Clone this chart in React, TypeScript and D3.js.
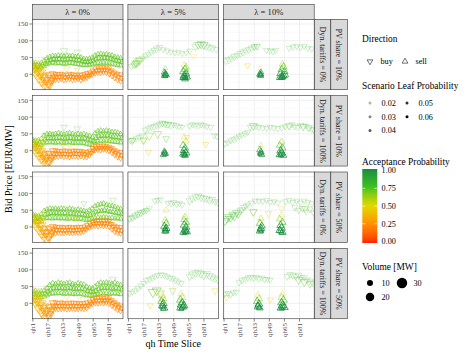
import React from "react";
import * as d3 from "d3";

// ---------------- data ----------------
const lambdaLabels = ["λ = 0%", "λ = 5%", "λ = 10%"];
const tariffLabels = ["Dyn. tariffs = 0%", "Dyn. tariffs = 100%", "Dyn. tariffs = 0%", "Dyn. tariffs = 100%"];
const pvLabels = ["PV share = 10%", "PV share = 10%", "PV share = 50%", "PV share = 50%"];
const xTickSlices = [1, 17, 33, 49, 65, 81];
const xTickLabels = ["qh1", "qh17", "qh33", "qh49", "qh65", "qh81"];
const yTickValues = [0, 50, 100, 150];
const yMinorValues = [-25, 25, 75, 125];

const bandSlices = [1, 4, 7, 10, 13, 16, 19, 22, 25, 28, 31, 34, 37, 40, 43, 46, 49, 52, 55, 58, 61, 64, 67, 70, 73, 76, 79, 82, 85, 88, 91, 94];
const midSlices = [2, 5, 8, 11, 14, 17, 20, 23, 26, 29, 32, 35, 38, 41, 44, 47, 50, 53, 56, 59, 62, 65, 68, 71, 74, 77, 80, 83, 86, 89, 92, 95];
const sellAcceptance = [0.62, 0.6, 0.6, 0.64, 0.68, 0.7, 0.72, 0.72, 0.72, 0.72, 0.72, 0.72, 0.72, 0.72, 0.72, 0.72, 0.72, 0.72, 0.72, 0.72, 0.72, 0.72, 0.72, 0.72, 0.72, 0.72, 0.72, 0.72, 0.72, 0.72, 0.72, 0.72];
const buyAcceptance = [0.46, 0.42, 0.38, 0.34, 0.3, 0.28, 0.26, 0.23, 0.22, 0.22, 0.22, 0.22, 0.22, 0.22, 0.22, 0.22, 0.22, 0.22, 0.22, 0.22, 0.22, 0.22, 0.22, 0.22, 0.22, 0.22, 0.22, 0.22, 0.22, 0.22, 0.22, 0.22];
const sellVolume = [12, 11, 10, 8, 7, 7, 7, 7, 7, 7, 7, 7, 7, 7, 7, 7, 7, 7, 7, 7, 7, 7, 7, 7, 7, 7, 7, 7, 7, 7, 7, 7];
const buyVolume = [16, 18, 20, 22, 24, 24, 20, 12, 7, 6, 6, 6, 6, 6, 6, 6, 6, 6, 6, 6, 6, 6, 6, 6, 6, 6, 6, 6, 6, 6, 6, 6];

// lambda = 0%, row 1 (PV 10%, Dyn 0%)
const sellHiR1 = [33, 32, 30, 34, 40, 48, 52, 55, 54, 56, 55, 53, 56, 54, 55, 52, 53, 50, 46, 45, 47, 50, 56, 60, 61, 59, 60, 58, 56, 52, 50, 48];
const sellMidR1 = [27, 25, 23, 27, 32, 38, 42, 45, 43, 46, 44, 42, 44, 45, 44, 41, 42, 39, 37, 36, 38, 41, 45, 48, 47, 49, 48, 46, 44, 41, 39, 37];
const sellLoR1 = [22, 18, 16, 20, 24, 30, 33, 35, 32, 34, 33, 31, 32, 34, 33, 31, 30, 28, 28, 27, 28, 30, 32, 34, 33, 35, 34, 32, 31, 29, 27, 26];
const buyHiR1 = [26, 20, 12, 5, -5, -12, -3, 2, 0, 1, 2, 0, -1, 2, 1, -2, 0, -1, 1, 4, 6, 12, 18, 22, 20, 22, 21, 18, 12, 6, 2, 0];
const buyMidR1 = [17, 10, 0, -8, -18, -26, -16, -8, -7, -8, -6, -9, -8, -6, -8, -9, -7, -10, -6, -3, 0, 5, 10, 13, 12, 14, 12, 9, 3, -3, -8, -11];
const buyLoR1 = [8, 0, -12, -22, -32, -38, -30, -18, -16, -17, -15, -18, -16, -14, -17, -16, -15, -18, -14, -10, -6, -2, 2, 4, 3, 5, 4, 0, -6, -12, -18, -22];
// row 2 (PV 10%, Dyn 100%)
const sellHiR2 = [30, 28, 30, 35, 45, 50, 50, 48, 50, 52, 50, 48, 50, 52, 50, 48, 50, 48, 50, 46, 44, 40, 52, 58, 60, 58, 60, 58, 56, 55, 54, 50];
const sellMidR2 = [24, 21, 21, 25, 33, 37, 37, 36, 37, 38, 37, 35, 37, 38, 36, 35, 37, 35, 36, 33, 31, 28, 38, 43, 45, 43, 45, 43, 41, 40, 39, 37];
const sellLoR2 = [18, 14, 12, 16, 22, 25, 24, 25, 23, 25, 24, 22, 24, 25, 23, 22, 24, 22, 23, 20, 18, 16, 25, 28, 30, 28, 30, 28, 27, 26, 25, 24];
const buyHiR2 = [20, 12, 5, -2, -10, -18, -10, 0, 1, 0, -1, 1, 0, -2, 0, 1, -1, 0, -2, -4, 0, 8, 14, 16, 15, 16, 14, 12, 8, 2, -2, -4];
const buyMidR2 = [12, 4, -5, -13, -22, -29, -21, -10, -8, -9, -9, -9, -9, -11, -8, -8, -10, -8, -10, -12, -7, 1, 7, 9, 8, 9, 8, 5, 0, -6, -11, -14];
const buyLoR2 = [5, -5, -15, -25, -33, -39, -32, -20, -18, -19, -17, -19, -18, -20, -17, -18, -19, -17, -19, -20, -15, -6, 0, 2, 1, 3, 2, -2, -8, -14, -20, -24];
// row 3 (PV 50%, Dyn 0%)
const sellHiR3 = [35, 33, 32, 38, 48, 52, 55, 54, 55, 53, 55, 54, 52, 55, 53, 50, 52, 50, 48, 46, 50, 55, 62, 66, 68, 70, 66, 64, 62, 60, 56, 54];
const sellMidR3 = [28, 25, 24, 29, 36, 39, 41, 40, 41, 40, 40, 41, 38, 40, 39, 37, 37, 37, 35, 33, 36, 40, 44, 47, 48, 50, 47, 45, 44, 42, 41, 39];
const sellLoR3 = [22, 18, 16, 20, 25, 26, 27, 25, 27, 26, 25, 27, 24, 26, 25, 24, 23, 25, 22, 20, 22, 24, 26, 28, 27, 29, 28, 26, 27, 25, 26, 24];
const buyHiR3 = [32, 25, 15, 5, -5, -15, -5, 2, 1, 0, 1, -1, 0, 1, -1, 0, 1, 0, 2, 6, 12, 16, 20, 19, 20, 18, 20, 17, 10, 4, 1, 0];
const buyMidR3 = [22, 14, 4, -8, -18, -27, -17, -8, -9, -8, -9, -10, -8, -8, -10, -8, -8, -8, -6, -1, 5, 9, 12, 11, 12, 10, 12, 9, 1, -5, -9, -10];
const buyLoR3 = [12, 2, -8, -20, -30, -38, -28, -18, -19, -17, -18, -19, -17, -18, -19, -17, -18, -16, -14, -8, -2, 1, 3, 2, 4, 2, 3, 0, -8, -15, -18, -20];
// row 4 (PV 50%, Dyn 100%)
const sellHiR4 = [38, 35, 34, 36, 38, 45, 55, 60, 58, 62, 60, 58, 60, 62, 58, 56, 60, 58, 56, 50, 46, 44, 50, 58, 62, 60, 62, 60, 58, 62, 58, 55];
const sellMidR4 = [29, 27, 26, 27, 29, 35, 41, 45, 44, 46, 45, 43, 45, 46, 43, 42, 44, 43, 41, 37, 35, 33, 37, 43, 46, 45, 46, 44, 43, 46, 43, 41];
const sellLoR4 = [20, 18, 17, 18, 20, 24, 28, 30, 29, 31, 30, 28, 29, 30, 28, 27, 29, 28, 26, 24, 23, 22, 25, 28, 30, 29, 30, 28, 29, 30, 28, 27];
const buyHiR4 = [23, 15, 8, 0, -10, -20, -12, 2, 3, 1, 3, 2, 0, 2, 3, 1, 2, 0, 1, 3, 6, 12, 18, 17, 18, 16, 18, 15, 10, 4, -2, -6];
const buyMidR4 = [15, 6, -4, -14, -24, -32, -24, -8, -7, -8, -7, -7, -9, -8, -7, -8, -8, -8, -8, -6, -1, 5, 9, 8, 10, 8, 10, 7, 1, -5, -11, -15];
const buyLoR4 = [8, -2, -15, -28, -38, -44, -36, -17, -16, -18, -17, -16, -18, -17, -16, -18, -17, -16, -17, -15, -8, -2, 0, -1, 1, 0, 2, -2, -8, -14, -20, -24];

type Bid = [number, number, string, number, number, number]; // qh, price, direction, acceptance, leaf prob, volume

// lambda = 0% scattered bids
const lam0ExtraR1: Bid[] = [[34, 71, "b", 0.8, 0.02, 14], [48, 66, "b", 0.78, 0.02, 12], [25, 46, "b", 0.75, 0.02, 10], [14, 45, "b", 0.7, 0.02, 8], [37, 17, "b", 0.45, 0.03, 10], [48, 12, "b", 0.45, 0.03, 8], [59, -8, "b", 0.3, 0.03, 12], [80, 27, "b", 0.45, 0.03, 10], [6, 27, "b", 0.8, 0.03, 14]];
const lam0ExtraR2: Bid[] = [[15, 45, "b", 0.75, 0.02, 14], [34, 70, "b", 0.8, 0.02, 12], [48, 65, "b", 0.8, 0.02, 12], [33, 18, "b", 0.45, 0.03, 10], [40, 15, "b", 0.45, 0.03, 10], [55, -5, "b", 0.4, 0.03, 10], [61, -3, "b", 0.35, 0.02, 8], [80, 25, "b", 0.45, 0.03, 10], [5, 28, "b", 0.75, 0.03, 14], [20, 48, "b", 0.72, 0.02, 10]];
const lam0ExtraR3: Bid[] = [[18, 45, "b", 0.8, 0.02, 16], [55, 70, "b", 0.8, 0.02, 10], [86, 80, "b", 0.8, 0.02, 12], [40, 30, "b", 0.5, 0.03, 10], [47, 28, "b", 0.5, 0.03, 10], [61, 25, "b", 0.48, 0.03, 10], [75, 30, "b", 0.5, 0.03, 10], [6, 30, "b", 0.75, 0.03, 14], [26, 50, "b", 0.72, 0.02, 10]];
const lam0ExtraR4: Bid[] = [[18, 43, "b", 0.78, 0.02, 20], [43, 52, "b", 0.75, 0.02, 10], [61, 28, "b", 0.55, 0.03, 10], [86, 72, "b", 0.78, 0.02, 12], [37, 18, "b", 0.45, 0.03, 10], [54, 13, "b", 0.45, 0.03, 10], [73, 28, "b", 0.5, 0.03, 12], [6, 28, "b", 0.7, 0.03, 14], [28, 50, "b", 0.72, 0.02, 10]];

// lambda = 5%
const lam5R1: Bid[] = [
  [4, 24, "b", 0.8, 0.02, 10], [7, 28, "b", 0.8, 0.03, 12], [9, 32, "b", 0.7, 0.04, 16], [10, 35, "b", 0.75, 0.03, 14], [12, 40, "b", 0.65, 0.03, 18], [13, 42, "b", 0.72, 0.03, 16], [16, 48, "b", 0.78, 0.02, 12], [19, 55, "b", 0.8, 0.02, 10], [22, 60, "b", 0.8, 0.02, 10], [25, 66, "b", 0.8, 0.02, 10], [28, 72, "b", 0.8, 0.02, 10], [31, 76, "b", 0.82, 0.02, 12], [34, 80, "b", 0.8, 0.02, 12], [38, 74, "b", 0.8, 0.02, 10], [42, 70, "b", 0.8, 0.02, 10], [46, 66, "b", 0.8, 0.02, 8], [50, 64, "b", 0.8, 0.02, 8], [54, 66, "b", 0.8, 0.02, 8], [58, 62, "b", 0.78, 0.02, 8], [62, 64, "b", 0.8, 0.02, 8], [66, 70, "b", 0.8, 0.02, 10], [70, 54, "b", 0.42, 0.02, 10], [72, 82, "b", 0.8, 0.02, 14], [75, 88, "b", 0.8, 0.03, 16], [78, 90, "b", 0.8, 0.03, 18], [81, 88, "b", 0.8, 0.03, 18], [84, 84, "b", 0.8, 0.02, 16], [87, 80, "b", 0.8, 0.02, 14], [90, 78, "b", 0.8, 0.02, 14], [94, 74, "b", 0.8, 0.02, 12],
  [40, 18, "s", 0.7, 0.03, 6], [39, 6, "s", 0.9, 0.05, 10], [40, 2, "s", 0.95, 0.06, 12], [41, -2, "s", 1, 0.06, 12], [39, -4, "s", 0.98, 0.06, 10], [40, -1, "s", 1, 0.06, 8], [40, -6, "s", 1, 0.06, 6],
  [60, 28, "s", 0.55, 0.03, 10], [62, 22, "s", 0.65, 0.04, 12], [61, 15, "s", 0.75, 0.05, 14], [59, 8, "s", 0.85, 0.05, 14], [62, 2, "s", 0.92, 0.06, 16], [60, -4, "s", 0.97, 0.06, 16], [63, -8, "s", 1, 0.06, 14], [59, -10, "s", 1, 0.06, 12], [61, -14, "s", 0.98, 0.06, 12], [61, -6, "s", 1, 0.06, 10], [60, -11, "s", 1, 0.06, 8], [62, -12, "s", 1, 0.06, 6],
];
const lam5R2: Bid[] = [
  [3, 30, "b", 0.8, 0.02, 10], [6, 32, "b", 0.8, 0.02, 10], [9, 36, "b", 0.8, 0.02, 10], [12, 40, "b", 0.8, 0.02, 10], [15, 44, "b", 0.8, 0.02, 10], [19, 62, "b", 0.8, 0.02, 10], [22, 66, "b", 0.8, 0.02, 10], [25, 70, "b", 0.8, 0.02, 10], [28, 72, "b", 0.8, 0.02, 12], [31, 75, "b", 0.8, 0.02, 12], [34, 78, "b", 0.8, 0.02, 12], [37, 82, "b", 0.8, 0.03, 12], [40, 80, "b", 0.8, 0.03, 12], [43, 78, "b", 0.8, 0.03, 12], [46, 76, "b", 0.8, 0.02, 12], [49, 78, "b", 0.8, 0.02, 10], [52, 75, "b", 0.8, 0.02, 10], [55, 72, "b", 0.8, 0.02, 10], [58, 70, "b", 0.8, 0.02, 8], [66, 74, "b", 0.8, 0.02, 10], [69, 78, "b", 0.8, 0.02, 10], [72, 76, "b", 0.8, 0.02, 10], [75, 74, "b", 0.8, 0.02, 10], [78, 78, "b", 0.8, 0.02, 10], [81, 76, "b", 0.8, 0.02, 10], [84, 72, "b", 0.8, 0.02, 10], [88, 70, "b", 0.8, 0.02, 10], [92, 45, "b", 0.8, 0.02, 10], [95, 42, "b", 0.8, 0.02, 10],
  [23, 45, "b", 0.7, 0.03, 20], [32, 50, "b", 0.72, 0.03, 18], [17, 31, "b", 0.7, 0.04, 14], [41, 36, "b", 0.72, 0.03, 12], [5, 30, "b", 0.72, 0.03, 14], [22, -4, "b", 0.42, 0.03, 10], [63, 40, "b", 0.45, 0.03, 10], [83, 19, "b", 0.45, 0.03, 10],
  [39, -2, "s", 0.95, 0.05, 10], [40, -8, "s", 1, 0.06, 12], [38, -12, "s", 1, 0.06, 10], [39, -6, "s", 1, 0.06, 8], [40, -11, "s", 1, 0.06, 6],
  [60, 40, "s", 0.45, 0.03, 10], [62, 28, "s", 0.55, 0.03, 10], [59, 16, "s", 0.75, 0.05, 14], [61, 8, "s", 0.85, 0.05, 14], [60, 1, "s", 0.95, 0.06, 16], [62, -6, "s", 1, 0.06, 16], [59, -10, "s", 1, 0.06, 14], [61, -14, "s", 1, 0.06, 12], [60, -8, "s", 1, 0.06, 10], [61, -12, "s", 1, 0.06, 8], [60, -15, "s", 1, 0.06, 6],
];
const lam5R3: Bid[] = [
  [2, 25, "b", 0.8, 0.03, 12], [5, 28, "b", 0.8, 0.03, 12], [8, 33, "b", 0.8, 0.03, 12], [11, 38, "b", 0.8, 0.03, 12], [14, 42, "b", 0.8, 0.03, 12], [17, 46, "b", 0.8, 0.03, 10], [20, 50, "b", 0.8, 0.03, 10], [23, 55, "b", 0.8, 0.02, 10], [29, 78, "b", 0.8, 0.02, 10], [32, 80, "b", 0.8, 0.02, 10], [35, 82, "b", 0.8, 0.02, 10], [43, 72, "b", 0.8, 0.02, 10], [46, 70, "b", 0.8, 0.02, 10], [49, 74, "b", 0.8, 0.02, 10], [52, 68, "b", 0.8, 0.02, 10], [55, 70, "b", 0.8, 0.02, 10], [58, 66, "b", 0.8, 0.02, 10], [66, 78, "b", 0.8, 0.02, 14], [69, 84, "b", 0.8, 0.02, 14], [72, 90, "b", 0.8, 0.02, 14], [75, 92, "b", 0.8, 0.02, 14], [78, 88, "b", 0.8, 0.02, 14], [81, 86, "b", 0.8, 0.02, 14], [84, 84, "b", 0.8, 0.02, 14], [87, 80, "b", 0.8, 0.02, 14], [90, 82, "b", 0.8, 0.02, 14], [93, 76, "b", 0.8, 0.02, 12], [96, 72, "b", 0.8, 0.02, 12],
  [41, 50, "s", 0.45, 0.03, 10], [40, 20, "s", 0.62, 0.04, 12], [41, 11, "s", 0.75, 0.05, 14], [39, 2, "s", 0.9, 0.06, 14], [41, -4, "s", 0.98, 0.06, 16], [40, -12, "s", 1, 0.06, 14], [40, -6, "s", 1, 0.06, 10], [41, -10, "s", 1, 0.06, 8], [40, -14, "s", 1, 0.06, 6],
  [61, 30, "s", 0.6, 0.04, 12], [60, 22, "s", 0.68, 0.04, 12], [62, 14, "s", 0.78, 0.05, 14], [60, 6, "s", 0.88, 0.06, 16], [62, 0, "s", 0.95, 0.06, 16], [61, -8, "s", 1, 0.06, 16], [63, -14, "s", 1, 0.06, 14], [59, -16, "s", 1, 0.06, 12], [61, -12, "s", 1, 0.06, 10], [62, -16, "s", 1, 0.06, 8], [60, -18, "s", 1, 0.06, 6],
];
const lam5R4: Bid[] = [
  [2, 30, "b", 0.8, 0.02, 10], [5, 34, "b", 0.8, 0.02, 10], [8, 38, "b", 0.8, 0.02, 10], [11, 44, "b", 0.8, 0.02, 10], [14, 52, "b", 0.8, 0.02, 10], [17, 60, "b", 0.8, 0.02, 10], [20, 68, "b", 0.8, 0.02, 10], [23, 72, "b", 0.8, 0.02, 10], [26, 76, "b", 0.8, 0.02, 10], [29, 80, "b", 0.8, 0.02, 10], [32, 84, "b", 0.8, 0.02, 10], [36, 86, "b", 0.8, 0.02, 10], [39, 84, "b", 0.8, 0.02, 10], [42, 80, "b", 0.8, 0.02, 10], [45, 76, "b", 0.8, 0.02, 10], [48, 74, "b", 0.8, 0.02, 10], [51, 68, "b", 0.8, 0.02, 10], [54, 64, "b", 0.8, 0.02, 10], [57, 60, "b", 0.8, 0.02, 10], [66, 80, "b", 0.8, 0.02, 14], [69, 86, "b", 0.8, 0.02, 16], [72, 90, "b", 0.8, 0.02, 16], [75, 92, "b", 0.8, 0.02, 16], [78, 88, "b", 0.8, 0.02, 16], [81, 84, "b", 0.8, 0.02, 16], [84, 88, "b", 0.8, 0.02, 16], [87, 82, "b", 0.8, 0.02, 16], [90, 78, "b", 0.8, 0.02, 16], [93, 74, "b", 0.8, 0.02, 14], [96, 70, "b", 0.8, 0.02, 14],
  [27, 33, "b", 0.7, 0.04, 24], [31, 38, "b", 0.72, 0.04, 22], [35, 30, "b", 0.65, 0.03, 18], [48, 38, "b", 0.65, 0.03, 12], [24, -7, "b", 0.45, 0.03, 10], [36, 13, "b", 0.45, 0.03, 12], [93, 38, "b", 0.45, 0.03, 12],
  [37, 24, "s", 0.45, 0.03, 12], [38, 14, "s", 0.65, 0.04, 14], [36, 6, "s", 0.8, 0.05, 14], [38, 0, "s", 0.92, 0.06, 16], [37, -6, "s", 1, 0.06, 16], [39, -14, "s", 1, 0.06, 14], [37, -10, "s", 1, 0.06, 10], [38, -16, "s", 1, 0.06, 8],
  [57, 28, "s", 0.45, 0.03, 12], [58, 18, "s", 0.6, 0.04, 14], [56, 10, "s", 0.75, 0.05, 16], [58, 2, "s", 0.88, 0.06, 16], [57, -4, "s", 0.97, 0.06, 18], [59, -10, "s", 1, 0.06, 16], [56, -14, "s", 1, 0.06, 14], [60, -6, "s", 1, 0.06, 14], [58, -12, "s", 1, 0.06, 10], [57, -16, "s", 1, 0.06, 8],
];

// lambda = 10%
const lam10R1: Bid[] = [
  [3, 40, "b", 0.8, 0.02, 12], [6, 43, "b", 0.8, 0.02, 14], [9, 48, "b", 0.8, 0.02, 14], [12, 53, "b", 0.8, 0.02, 14], [15, 57, "b", 0.8, 0.02, 12], [18, 62, "b", 0.8, 0.02, 12], [21, 66, "b", 0.8, 0.02, 12], [24, 70, "b", 0.8, 0.02, 12], [27, 74, "b", 0.8, 0.02, 12], [30, 78, "b", 0.8, 0.02, 12], [33, 82, "b", 0.8, 0.03, 12], [36, 84, "b", 0.8, 0.03, 12], [46, 72, "b", 0.8, 0.02, 10], [50, 70, "b", 0.8, 0.02, 10], [53, 68, "b", 0.8, 0.02, 10], [56, 72, "b", 0.8, 0.02, 10], [70, 78, "b", 0.8, 0.02, 10], [74, 82, "b", 0.8, 0.02, 10], [78, 84, "b", 0.8, 0.02, 10], [82, 80, "b", 0.8, 0.02, 10], [86, 84, "b", 0.8, 0.02, 10], [90, 78, "b", 0.8, 0.02, 10], [94, 76, "b", 0.8, 0.02, 10], [26, 26, "b", 0.45, 0.03, 10],
  [39, 18, "s", 0.5, 0.02, 6], [40, 6, "s", 0.9, 0.05, 10], [39, 0, "s", 0.98, 0.06, 12], [40, -4, "s", 1, 0.06, 10], [40, 1, "s", 1, 0.06, 8], [39, -3, "s", 1, 0.06, 6],
  [63, 30, "s", 0.6, 0.04, 12], [64, 22, "s", 0.72, 0.05, 14], [62, 14, "s", 0.8, 0.05, 14], [65, 8, "s", 0.88, 0.06, 14], [61, 2, "s", 0.95, 0.06, 16], [64, -4, "s", 1, 0.06, 16], [62, -8, "s", 1, 0.06, 14], [66, -2, "s", 0.95, 0.05, 12], [60, -10, "s", 0.98, 0.06, 12], [63, -6, "s", 1, 0.06, 10], [62, -11, "s", 1, 0.06, 8], [64, -10, "s", 1, 0.06, 6],
];
const lam10R2: Bid[] = [
  [2, 21, "b", 0.8, 0.02, 10], [5, 24, "b", 0.8, 0.02, 10], [8, 30, "b", 0.8, 0.02, 10], [11, 34, "b", 0.8, 0.02, 10], [14, 38, "b", 0.8, 0.02, 10], [17, 42, "b", 0.8, 0.02, 10], [20, 47, "b", 0.8, 0.02, 10], [23, 51, "b", 0.8, 0.02, 10], [26, 55, "b", 0.8, 0.02, 10], [29, 70, "b", 0.8, 0.02, 10], [32, 74, "b", 0.8, 0.03, 16], [35, 72, "b", 0.8, 0.02, 10], [38, 70, "b", 0.8, 0.02, 10], [42, 68, "b", 0.8, 0.02, 10], [46, 66, "b", 0.8, 0.02, 10], [50, 70, "b", 0.8, 0.02, 10], [54, 68, "b", 0.8, 0.02, 10], [58, 66, "b", 0.8, 0.02, 10], [62, 68, "b", 0.8, 0.02, 10], [66, 72, "b", 0.8, 0.02, 10], [70, 74, "b", 0.8, 0.03, 14], [73, 78, "b", 0.8, 0.02, 10], [76, 72, "b", 0.8, 0.02, 10], [79, 70, "b", 0.8, 0.02, 10], [82, 76, "b", 0.8, 0.02, 10], [85, 72, "b", 0.8, 0.03, 14], [88, 74, "b", 0.8, 0.02, 10], [91, 68, "b", 0.8, 0.03, 12], [94, 64, "b", 0.8, 0.02, 10], [96, 62, "b", 0.8, 0.02, 10],
  [40, 16, "s", 0.55, 0.03, 6], [39, 2, "s", 0.92, 0.05, 12], [40, -4, "s", 1, 0.06, 12], [41, -12, "s", 1, 0.06, 10], [40, -8, "s", 1, 0.06, 8], [39, -10, "s", 1, 0.06, 6],
  [62, 26, "s", 0.6, 0.04, 12], [60, 16, "s", 0.72, 0.05, 12], [63, 8, "s", 0.82, 0.05, 14], [61, 0, "s", 0.95, 0.06, 16], [62, -6, "s", 1, 0.06, 16], [60, -12, "s", 1, 0.06, 14], [64, -14, "s", 1, 0.06, 12], [62, -10, "s", 1, 0.06, 10], [61, -14, "s", 1, 0.06, 8],
];
const lam10R3: Bid[] = [
  [2, 18, "b", 0.78, 0.03, 18], [4, 24, "b", 0.78, 0.03, 16], [6, 30, "b", 0.78, 0.03, 18], [8, 26, "b", 0.78, 0.03, 14], [10, 36, "b", 0.78, 0.03, 16], [12, 32, "b", 0.78, 0.03, 18], [14, 42, "b", 0.78, 0.03, 16], [16, 38, "b", 0.78, 0.03, 14], [18, 48, "b", 0.8, 0.02, 14], [20, 52, "b", 0.8, 0.02, 12], [22, 58, "b", 0.8, 0.02, 12], [24, 62, "b", 0.8, 0.02, 10], [26, 66, "b", 0.8, 0.02, 10], [30, 72, "b", 0.8, 0.02, 10], [34, 78, "b", 0.8, 0.02, 10], [38, 78, "b", 0.8, 0.02, 10], [42, 76, "b", 0.8, 0.02, 10], [46, 80, "b", 0.8, 0.02, 10], [50, 74, "b", 0.8, 0.02, 10], [54, 76, "b", 0.8, 0.02, 10], [58, 72, "b", 0.8, 0.02, 10], [66, 76, "b", 0.8, 0.02, 10], [70, 80, "b", 0.8, 0.02, 10], [74, 74, "b", 0.8, 0.02, 10], [78, 78, "b", 0.8, 0.02, 10], [82, 72, "b", 0.8, 0.02, 10], [86, 78, "b", 0.8, 0.02, 10], [90, 74, "b", 0.8, 0.02, 10], [94, 70, "b", 0.8, 0.02, 10], [76, 58, "b", 0.8, 0.02, 10], [80, 50, "b", 0.8, 0.02, 10], [84, 55, "b", 0.8, 0.02, 10], [88, 46, "b", 0.8, 0.02, 10], [92, 52, "b", 0.8, 0.02, 10], [96, 42, "b", 0.8, 0.02, 10],
  [32, 45, "b", 0.7, 0.04, 16], [48, 40, "b", 0.5, 0.03, 12], [62, 55, "b", 0.45, 0.02, 12], [87, 55, "b", 0.7, 0.03, 14],
  [40, 25, "s", 0.55, 0.04, 10], [39, 11, "s", 0.78, 0.05, 14], [41, 3, "s", 0.9, 0.06, 14], [40, -4, "s", 1, 0.06, 16], [39, -12, "s", 1, 0.06, 14], [40, -8, "s", 1, 0.06, 10], [40, -13, "s", 1, 0.06, 6],
  [62, 35, "s", 0.5, 0.03, 10], [60, 24, "s", 0.65, 0.04, 12], [63, 14, "s", 0.75, 0.05, 14], [61, 5, "s", 0.88, 0.06, 16], [62, -3, "s", 0.97, 0.06, 16], [60, -10, "s", 1, 0.06, 16], [63, -16, "s", 1, 0.06, 14], [61, -12, "s", 1, 0.06, 10], [62, -16, "s", 1, 0.06, 8],
];
const lam10R4: Bid[] = [
  [2, 28, "b", 0.8, 0.02, 10], [5, 30, "b", 0.8, 0.02, 10], [8, 26, "b", 0.8, 0.02, 10], [11, 32, "b", 0.8, 0.02, 10], [14, 34, "b", 0.8, 0.02, 10], [4, 18, "b", 0.45, 0.03, 10], [17, 62, "b", 0.8, 0.02, 10], [20, 68, "b", 0.8, 0.02, 10], [23, 72, "b", 0.8, 0.02, 10], [26, 76, "b", 0.8, 0.02, 10], [29, 78, "b", 0.8, 0.02, 10], [32, 76, "b", 0.8, 0.02, 10], [35, 78, "b", 0.8, 0.02, 10], [38, 74, "b", 0.8, 0.02, 10], [41, 76, "b", 0.8, 0.02, 10], [44, 72, "b", 0.8, 0.02, 10], [47, 72, "b", 0.8, 0.02, 8], [50, 70, "b", 0.8, 0.02, 8], [68, 80, "b", 0.8, 0.02, 12], [71, 86, "b", 0.8, 0.02, 12], [74, 84, "b", 0.8, 0.02, 12], [77, 80, "b", 0.8, 0.02, 12], [80, 84, "b", 0.8, 0.02, 12], [83, 76, "b", 0.8, 0.02, 12], [86, 78, "b", 0.8, 0.02, 12], [89, 70, "b", 0.8, 0.02, 12], [92, 66, "b", 0.8, 0.02, 12], [95, 62, "b", 0.8, 0.02, 12],
  [80, 70, "b", 0.72, 0.03, 18], [86, 64, "b", 0.72, 0.03, 18], [92, 58, "b", 0.7, 0.03, 16], [50, 11, "b", 0.45, 0.03, 10],
  [37, 24, "s", 0.45, 0.03, 12], [38, 14, "s", 0.65, 0.04, 14], [36, 6, "s", 0.82, 0.05, 14], [38, -2, "s", 0.95, 0.06, 16], [37, -10, "s", 1, 0.06, 16], [39, -14, "s", 1, 0.06, 12], [37, -6, "s", 1, 0.06, 10], [38, -12, "s", 1, 0.06, 8],
  [63, 28, "s", 0.5, 0.03, 12], [62, 18, "s", 0.62, 0.04, 14], [64, 10, "s", 0.78, 0.05, 16], [62, 2, "s", 0.9, 0.06, 16], [63, -6, "s", 1, 0.06, 18], [65, -12, "s", 1, 0.06, 16], [61, -14, "s", 1, 0.06, 14], [63, -10, "s", 1, 0.06, 10], [62, -15, "s", 1, 0.06, 8],
];

const accStops = [0, 0.25, 0.5, 0.75, 1];
const accColors = ["#FF2000", "#FF8C00", "#E2D800", "#3EC31B", "#178B3D"];
const leafLevels = [0.02, 0.03, 0.04, 0.05, 0.06];
const volumeLevels = [10, 20, 30];
const accTicks = [0, 0.25, 0.5, 0.75, 1];

// ---------------- layout ----------------
const W = 474, H = 355;
const FONT = "'Liberation Serif', 'Times New Roman', Times, serif";
const PL = 32.3, PW = 90.7, GX = 4.9;
const PT = 19.3, PH = 70.4, GY = 5.95;
const STRIP = 14.8;

function buildLam0(
  sHi: number[], sMid: number[], sLo: number[], bHi: number[], bMid: number[], bLo: number[], extra: Bid[]
): Bid[] {
  const out: Bid[] = [];
  const addSell = (slices: number[], arr: number[], p: number) =>
    slices.forEach((q, i) => out.push([q, arr[i], "s", sellAcceptance[i], p, sellVolume[i]]));
  const addBuy = (slices: number[], arr: number[], p: number) =>
    slices.forEach((q, i) => out.push([q, arr[i], "b", buyAcceptance[i], p, buyVolume[i]]));
  addSell(bandSlices, sLo, 0.05); addSell(midSlices, sMid, 0.06); addSell(bandSlices, sHi, 0.05);
  addBuy(bandSlices, bLo, 0.05); addBuy(midSlices, bMid, 0.06); addBuy(bandSlices, bHi, 0.05);
  return out.concat(extra);
}

const panels: Bid[][][] = [
  [buildLam0(sellHiR1, sellMidR1, sellLoR1, buyHiR1, buyMidR1, buyLoR1, lam0ExtraR1), lam5R1, lam10R1],
  [buildLam0(sellHiR2, sellMidR2, sellLoR2, buyHiR2, buyMidR2, buyLoR2, lam0ExtraR2), lam5R2, lam10R2],
  [buildLam0(sellHiR3, sellMidR3, sellLoR3, buyHiR3, buyMidR3, buyLoR3, lam0ExtraR3), lam5R3, lam10R3],
  [buildLam0(sellHiR4, sellMidR4, sellLoR4, buyHiR4, buyMidR4, buyLoR4, lam0ExtraR4), lam5R4, lam10R4],
];

export default function App() {
  const xs = d3.scaleLinear().domain([0.4, 96.6]).range([0, PW]);
  const ys = d3.scaleLinear().domain([-46, 164]).range([PH, 0]);
  const color = d3.scaleLinear<string>().domain(accStops).range(accColors).interpolate(d3.interpolateLab);
  const alpha = d3.scaleLinear().domain([0.02, 0.06]).range([0.3, 1]).clamp(true);
  const rad = d3.scaleSqrt().domain([0, 30]).range([0, 5.5]);
  const triPath = (r: number) => d3.symbol().type(d3.symbolTriangle).size(1.3 * r * r)() as string;

  const colX = (c: number) => PL + c * (PW + GX);
  const rowY = (r: number) => PT + r * (PH + GY);
  const rightX = colX(2) + PW;
  const bottomY = rowY(3) + PH;

  // colour bar
  const cbX = 362.3, cbW = 15, cbTop = 169, cbBot = 243;
  const cbY = d3.scaleLinear().domain([0, 1]).range([cbBot - 1.5, cbTop + 1.5]);
  const gradStops = d3.range(0, 1.0001, 0.05);

  return (
    <svg width={W} height={H} style={{ position: "absolute", left: 0, top: 0, background: "#fff" }} fontFamily={FONT}>
      <defs>
        {panels.map((row, r) =>
          row.map((_, c) => (
            <clipPath id={`clip-${r}-${c}`} key={`cp${r}${c}`}>
              <rect x={0} y={0} width={PW} height={PH} />
            </clipPath>
          ))
        )}
        <linearGradient id="accgrad" x1="0" y1="1" x2="0" y2="0">
          {gradStops.map((t) => (
            <stop key={t} offset={`${t * 100}%`} stopColor={color(t)} />
          ))}
        </linearGradient>
      </defs>

      {/* top strips */}
      {lambdaLabels.map((lab, c) => (
        <g key={`ts${c}`} transform={`translate(${colX(c)},${PT - STRIP})`}>
          <rect width={PW} height={STRIP} fill="#D9D9D9" stroke="#333" strokeWidth={0.6} />
          <text x={PW / 2} y={STRIP / 2} dy="0.35em" textAnchor="middle" fontSize={8.6} fill="#1A1A1A">{lab}</text>
        </g>
      ))}

      {/* right strips */}
      {tariffLabels.map((lab, r) => (
        <g key={`rs${r}`}>
          <g transform={`translate(${rightX},${rowY(r)})`}>
            <rect width={16.6} height={PH} fill="#D9D9D9" stroke="#333" strokeWidth={0.6} />
            <text transform={`translate(8.3,${PH / 2}) rotate(90)`} dy="0.35em" textAnchor="middle" fontSize={8} fill="#1A1A1A">{lab}</text>
          </g>
          <g transform={`translate(${rightX + 16.6},${rowY(r)})`}>
            <rect width={16.6} height={PH} fill="#D9D9D9" stroke="#333" strokeWidth={0.6} />
            <text transform={`translate(8.3,${PH / 2}) rotate(90)`} dy="0.35em" textAnchor="middle" fontSize={8} fill="#1A1A1A">{pvLabels[r]}</text>
          </g>
        </g>
      ))}

      {/* panels */}
      {panels.map((row, r) =>
        row.map((pts, c) => {
          const sorted = c === 0 ? pts : pts.filter((p) => p[2] === "b").concat(pts.filter((p) => p[2] === "s"));
          return (
            <g key={`p${r}${c}`} transform={`translate(${colX(c)},${rowY(r)})`}>
              <rect width={PW} height={PH} fill="#fff" />
              {yMinorValues.map((v) => (
                <line key={`mn${v}`} x1={0} x2={PW} y1={ys(v)} y2={ys(v)} stroke="#F2F2F2" strokeWidth={0.4} />
              ))}
              {yTickValues.map((v) => (
                <line key={`mj${v}`} x1={0} x2={PW} y1={ys(v)} y2={ys(v)} stroke="#E6E6E6" strokeWidth={0.6} />
              ))}
              {xTickSlices.map((q) => (
                <line key={`vx${q}`} x1={xs(q)} x2={xs(q)} y1={0} y2={PH} stroke="#E6E6E6" strokeWidth={0.6} />
              ))}
              <g clipPath={`url(#clip-${r}-${c})`}>
                {sorted.map((p, i) => {
                  const [q, price, dir, acc, prob, vol] = p;
                  return (
                    <path
                      key={i}
                      d={triPath(rad(vol) * 1.1)}
                      transform={`translate(${xs(q)},${ys(price)})${dir === "b" ? " rotate(180)" : ""}`}
                      fill="none"
                      stroke={color(acc)}
                      strokeOpacity={alpha(prob)}
                      strokeWidth={0.75}
                    />
                  );
                })}
              </g>
              <rect width={PW} height={PH} fill="none" stroke="#333" strokeWidth={0.6} />
            </g>
          );
        })
      )}

      {/* y axes */}
      {panels.map((_, r) => (
        <g key={`ya${r}`} transform={`translate(${PL},${rowY(r)})`}>
          {yTickValues.map((v) => (
            <g key={v}>
              <line x1={-2.8} x2={0} y1={ys(v)} y2={ys(v)} stroke="#333" strokeWidth={0.6} />
              <text x={-4.3} y={ys(v)} dy="0.35em" textAnchor="end" fontSize={7} fill="#4D4D4D">{v}</text>
            </g>
          ))}
        </g>
      ))}

      {/* x axes */}
      {lambdaLabels.map((_, c) => (
        <g key={`xa${c}`} transform={`translate(${colX(c)},${bottomY})`}>
          {xTickSlices.map((q, i) => (
            <g key={q}>
              <line x1={xs(q)} x2={xs(q)} y1={0} y2={2.8} stroke="#333" strokeWidth={0.6} />
              <text transform={`translate(${xs(q)},4.3) rotate(-90)`} dy="0.35em" textAnchor="end" fontSize={7} fill="#4D4D4D">{xTickLabels[i]}</text>
            </g>
          ))}
        </g>
      ))}

      {/* axis titles */}
      <text transform={`translate(12,${(PT + bottomY) / 2}) rotate(-90)`} textAnchor="middle" fontSize={10} fill="#000">Bid Price [EUR/MW]</text>
      <text x={(PL + rightX) / 2} y={347} textAnchor="middle" fontSize={10} fill="#000">qh Time Slice</text>

      {/* legend: Direction */}
      <text x={362} y={42} fontSize={9.4} fill="#000">Direction</text>
      <path d={triPath(3.3)} transform="translate(370,61.5) rotate(180)" fill="none" stroke="#333" strokeWidth={0.7} />
      <text x={380.5} y={61.5} dy="0.35em" fontSize={8.2}>buy</text>
      <path d={triPath(3.3)} transform="translate(405,61.5)" fill="none" stroke="#333" strokeWidth={0.7} />
      <text x={415.5} y={61.5} dy="0.35em" fontSize={8.2}>sell</text>

      {/* legend: Scenario Leaf Probability */}
      <text x={362} y={89} fontSize={9.4} fill="#000">Scenario Leaf Probability</text>
      {leafLevels.map((lv, i) => {
        const col = Math.floor(i / 3);
        const rr = i % 3;
        const cx = 370 + col * 37;
        const cy = 103 + rr * 13.8;
        return (
          <g key={lv}>
            <circle cx={cx} cy={cy} r={1.5} fill="#000" fillOpacity={alpha(lv)} />
            <text x={cx + 11.5} y={cy} dy="0.35em" fontSize={8.2}>{lv.toFixed(2)}</text>
          </g>
        );
      })}

      {/* legend: Acceptance Probability */}
      <text x={362} y={164.5} fontSize={9.4} fill="#000">Acceptance Probability</text>
      <rect x={cbX} y={cbTop} width={cbW} height={cbBot - cbTop} fill="url(#accgrad)" />
      {accTicks.map((t) => (
        <g key={t}>
          {t > 0 && t < 1 && (
            <>
              <line x1={cbX} x2={cbX + 3} y1={cbY(t)} y2={cbY(t)} stroke="#fff" strokeWidth={0.6} />
              <line x1={cbX + cbW - 3} x2={cbX + cbW} y1={cbY(t)} y2={cbY(t)} stroke="#fff" strokeWidth={0.6} />
            </>
          )}
          <text x={cbX + cbW + 4.3} y={cbY(t)} dy="0.35em" fontSize={8.2}>{t.toFixed(2)}</text>
        </g>
      ))}

      {/* legend: Volume */}
      <text x={362} y={270} fontSize={9.4} fill="#000">Volume [MW]</text>
      {volumeLevels.map((v, i) => {
        const col = Math.floor(i / 2);
        const rr = i % 2;
        const cx = 370 + col * 32;
        const cy = 283 + rr * 14;
        return (
          <g key={v}>
            <circle cx={cx} cy={cy} r={rad(v) * 0.95} fill="#000" />
            <text x={cx + 11.5} y={cy} dy="0.35em" fontSize={8.2}>{v}</text>
          </g>
        );
      })}
    </svg>
  );
}
